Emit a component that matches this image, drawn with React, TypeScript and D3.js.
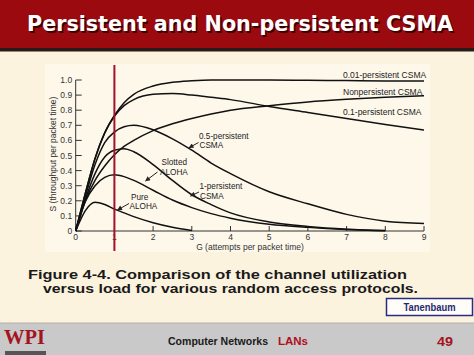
import React from "react";
import * as d3 from "d3";

// ---- data ----
const gGrid = [0, 0.25, 0.5, 0.75, 1, 1.25, 1.5, 2, 2.5, 3, 3.5, 4, 5, 6, 7, 8, 9];
const csma001 = [0, 0.25, 0.48, 0.65, 0.765, 0.85, 0.905, 0.96, 0.985, 0.995, 1.0, 1.0, 1.0, 0.998, 0.996, 0.994, 0.993];
const csma01 = [0, 0.25, 0.48, 0.65, 0.76, 0.83, 0.87, 0.905, 0.91, 0.9, 0.885, 0.87, 0.825, 0.785, 0.745, 0.705, 0.669];
const nonPersistent = [0, 0.2, 0.335, 0.43, 0.505, 0.56, 0.6, 0.665, 0.71, 0.745, 0.775, 0.8, 0.83, 0.855, 0.872, 0.885, 0.896];
const csma05 = [0, 0.23, 0.44, 0.585, 0.655, 0.69, 0.7, 0.67, 0.61, 0.535, 0.45, 0.38, 0.26, 0.18, 0.11, 0.065, 0.05];
const csma1 = [0, 0.21, 0.38, 0.49, 0.535, 0.545, 0.525, 0.44, 0.335, 0.24, 0.175, 0.12, 0.06, 0.03, 0.012, 0.003, null];
const slottedAloha = [0, 0.195, 0.3, 0.355, 0.372, 0.36, 0.335, 0.27, 0.205, 0.155, 0.115, 0.085, 0.045, 0.024, 0.01, 0.002, null];
const pureAloha = [0, 0.135, 0.19, 0.175, 0.145, 0.12, 0.095, 0.055, 0.025, 0.003, null, null, null, null, null, null, null];

const xTicks = [0, 1, 2, 3, 4, 5, 6, 7, 8, 9];
const yTicks = [0, 0.1, 0.2, 0.3, 0.4, 0.5, 0.6, 0.7, 0.8, 0.9, 1.0];
const yTickLabels = ["0", "0.1", "0.2", "0.3", "0.4", "0.5", "0.6", "0.7", "0.8", "0.9", "1.0"];

const seriesList = [csma001, csma01, nonPersistent, csma05, csma1, slottedAloha, pureAloha];

const titleText = "Persistent and Non-persistent CSMA";
const caption1 = "Figure 4-4. Comparison of the channel utilization";
const caption2 = "versus load for various random access protocols.";

export default function App() {
  const W = 474, H = 355;
  const x = d3.scaleLinear().domain([0, 9]).range([75.7, 424]);
  const y = d3.scaleLinear().domain([0, 1]).range([231, 80]);
  const line = d3
    .line<[number, number | null]>()
    .defined((d) => d[1] !== null)
    .x((d) => x(d[0]))
    .y((d) => y(d[1] as number))
    .curve(d3.curveMonotoneX);

  const chartFont = "'Liberation Sans', Arial, sans-serif";
  const slideFont = "'DejaVu Sans', sans-serif";
  const ink = "#222";

  const arrows = [
    { x1: 198.5, y1: 142.5, x2: 189, y2: 147.8 },
    { x1: 157.5, y1: 172, x2: 145.5, y2: 181 },
    { x1: 199, y1: 192, x2: 190.5, y2: 196 },
    { x1: 129, y1: 203.5, x2: 117.5, y2: 210 },
  ];

  return (
    <svg
      width={W}
      height={H}
      style={{ position: "absolute", left: 0, top: 0, display: "block" }}
    >
      <defs>
        <marker
          id="ah"
          viewBox="0 0 10 10"
          refX="9"
          refY="5"
          markerWidth="6"
          markerHeight="5"
          markerUnits="userSpaceOnUse"
          orient="auto"
        >
          <path d="M0,0 L10,5 L0,10 z" fill={ink} />
        </marker>
      </defs>

      {/* slide background */}
      <rect x={0} y={0} width={W} height={H} fill="#fcf3df" />
      {/* title bar */}
      <rect x={0} y={0} width={W} height={48} fill="#9b0a0f" />
      <rect x={0} y={48} width={W} height={3.5} fill="#2a1a1a" />
      <text
        x={241.5}
        y={32.5}
        textAnchor="middle"
        fontFamily={slideFont}
        fontWeight="bold"
        fontSize={21}
        fill="#3a0000"
        textLength={426}
        lengthAdjust="spacingAndGlyphs"
      >
        {titleText}
      </text>
      <text
        x={240}
        y={31}
        textAnchor="middle"
        fontFamily={slideFont}
        fontWeight="bold"
        fontSize={21}
        fill="#ffffff"
        textLength={426}
        lengthAdjust="spacingAndGlyphs"
      >
        {titleText}
      </text>

      {/* chart panel */}
      <rect x={45} y={64} width={385} height={188} fill="#fef8eb" />

      {/* axes */}
      <g stroke="#333" strokeWidth={1} fill="none">
        <line x1={x(0)} x2={x(9)} y1={y(0)} y2={y(0)} />
        <line x1={x(0)} x2={x(0)} y1={y(0)} y2={y(1)} />
        {xTicks.map((t) => (
          <line key={"xt" + t} x1={x(t)} x2={x(t)} y1={y(0)} y2={y(0) - 5} />
        ))}
        {yTicks.map((t) => (
          <line key={"yt" + t} x1={x(0)} x2={x(0) + 6} y1={y(t)} y2={y(t)} />
        ))}
      </g>
      <g fontFamily={chartFont} fontSize={8.5} fill="#333">
        {xTicks.map((t) => (
          <text key={"xl" + t} x={x(t)} y={y(0) + 8.5} textAnchor="middle">
            {t}
          </text>
        ))}
        {yTicks.map((t, i) => (
          <text key={"yl" + t} x={x(0) - 3.5} y={y(t) + 3} textAnchor="end">
            {yTickLabels[i]}
          </text>
        ))}
        <text x={250} y={249.5} textAnchor="middle">
          G (attempts per packet time)
        </text>
        <text transform="translate(55.5,154) rotate(-90)" textAnchor="middle">
          S (throughput per packet time)
        </text>
      </g>

      {/* curves */}
      <g fill="none" stroke="#111" strokeWidth={1.5}>
        {seriesList.map((s, i) => (
          <path
            key={"s" + i}
            d={line(gGrid.map((g, j) => [g, s[j]] as [number, number | null])) || ""}
          />
        ))}
      </g>

      {/* annotations */}
      <g fontFamily={chartFont} fontSize={8.5} fill={ink}>
        <text x={343} y={78}>0.01-persistent CSMA</text>
        <text x={343} y={95}>Nonpersistent CSMA</text>
        <text x={343} y={115}>0.1-persistent CSMA</text>
      </g>
      <g fontFamily={chartFont} fontSize={8.2} fill={ink}>
        <text x={199} y={138.8}>0.5-persistent</text>
        <text x={199.5} y={148.1}>CSMA</text>
        <text x={161.5} y={165.2}>Slotted</text>
        <text x={160} y={174.5}>ALOHA</text>
        <text x={199.5} y={189.2}>1-persistent</text>
        <text x={200} y={198.5}>CSMA</text>
        <text x={131} y={199.5}>Pure</text>
        <text x={129.5} y={208.8}>ALOHA</text>
      </g>
      <g stroke={ink} strokeWidth={1}>
        {arrows.map((a, i) => (
          <line key={"a" + i} x1={a.x1} y1={a.y1} x2={a.x2} y2={a.y2} markerEnd="url(#ah)" />
        ))}
      </g>

      {/* red vertical marker at G = 1 */}
      <line x1={x(1)} x2={x(1)} y1={65} y2={251} stroke="#a3122a" strokeWidth={2} />

      {/* caption */}
      <g fontFamily={chartFont} fontWeight="bold" fontSize={12.8} fill="#1a1a1a">
        <text x={28} y={278.5} textLength={379} lengthAdjust="spacingAndGlyphs">
          {caption1}
        </text>
        <text x={43} y={293} textLength={375} lengthAdjust="spacingAndGlyphs">
          {caption2}
        </text>
      </g>

      {/* Tanenbaum box */}
      <rect x={386.5} y={298.5} width={86} height={17} fill="#fffdf7" stroke="#2b2b80" strokeWidth={1.5} />
      <text
        x={429.5}
        y={311}
        textAnchor="middle"
        fontFamily={chartFont}
        fontWeight="bold"
        fontSize={10}
        fill="#1f2a70"
        textLength={52}
        lengthAdjust="spacingAndGlyphs"
      >
        Tanenbaum
      </text>

      {/* footer */}
      <rect x={0} y={323} width={W} height={32} fill="#c9c9c9" />
      <line x1={0} x2={W} y1={323} y2={323} stroke="#b5b0a8" strokeWidth={1} />
      <text
        x={4}
        y={344}
        fontFamily="'Liberation Serif', 'DejaVu Serif', serif"
        fontWeight="bold"
        fontSize={21}
        fill="#a3141f"
        textLength={41}
        lengthAdjust="spacingAndGlyphs"
      >
        WPI
      </text>
      <rect x={5} y={351} width={41} height={4} fill="#555" />
      <text
        x={168}
        y={345}
        fontFamily={chartFont}
        fontWeight="bold"
        fontSize={10.5}
        fill="#1a1a1a"
        textLength={100}
        lengthAdjust="spacingAndGlyphs"
      >
        Computer Networks
      </text>
      <text
        x={278}
        y={345}
        fontFamily={chartFont}
        fontWeight="bold"
        fontSize={10.5}
        fill="#b0101c"
        textLength={30}
        lengthAdjust="spacingAndGlyphs"
      >
        LANs
      </text>
      <text
        x={437}
        y={345.5}
        fontFamily={chartFont}
        fontWeight="bold"
        fontSize={12}
        fill="#a3141f"
        textLength={16}
        lengthAdjust="spacingAndGlyphs"
      >
        49
      </text>
    </svg>
  );
}
